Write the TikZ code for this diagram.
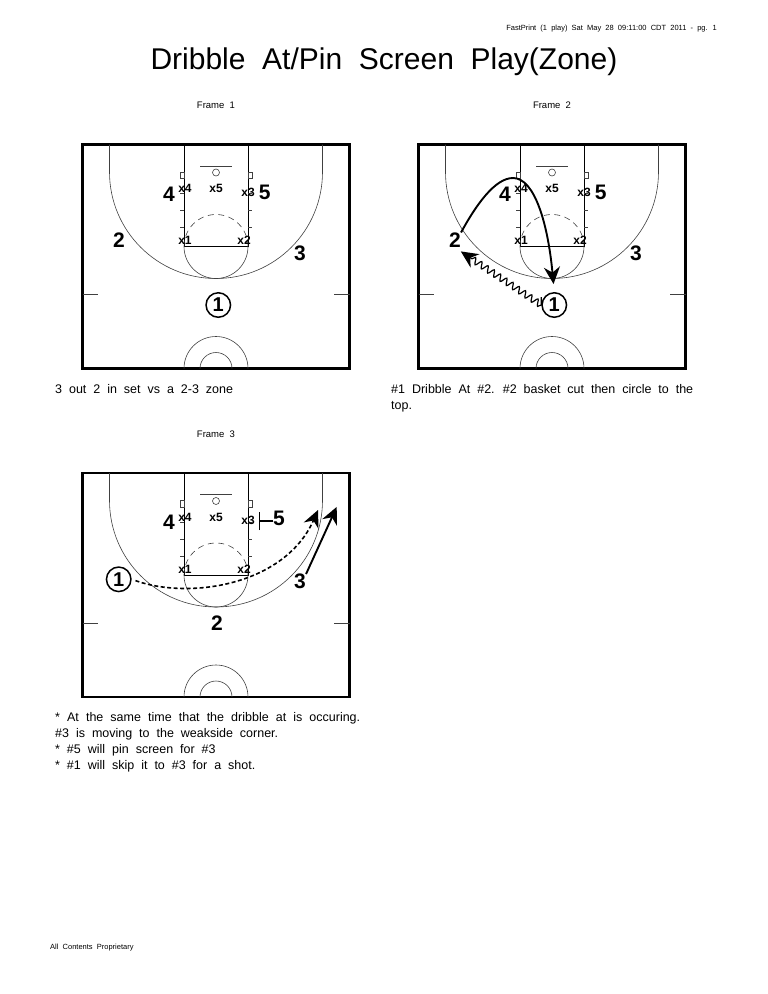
\documentclass[tikz,border=0pt]{standalone}
\usepackage{fontspec}
\setmainfont[WordSpace=2]{Liberation Sans}
\usetikzlibrary{arrows.meta, positioning, decorations.pathmorphing}
\tikzset{
    court/.pic = {
        % outer frame
        \draw [line width=2.6pt] (-133.5,0) rectangle (133.5,-224);
        % three point line
        \draw [thinline] (-106.5,0) -- (-106.5,-27.5) arc [start angle=180, end angle=360, radius=106.5] -- (106.5,0);
        % lane and free throw circle
        \draw [laneline] (-32,0) -- (-32,-102) -- (32,-102) -- (32,0);
        \draw [thinline] (-32,-102) arc [start angle=180, end angle=360, radius=32];
        \draw [thinline, dash pattern=on 6pt off 4.5pt] (32,-102) arc [start angle=0, end angle=180, radius=32];
        % rim and blocks
        \draw [thinline] (-16,-21.5) -- (16,-21.5);
        \draw [thinline] (0,-28) circle (3.5);
        \draw [thinline] (-36,-27.5) rectangle (-32,-34);
        \draw [thinline] (32,-27.5) rectangle (36,-34);
        % lane ticks
        \foreach \ypos in {-49,-66,-83} {
            \draw [thinline] (-36,\ypos) -- (-32,\ypos);
            \draw [thinline] (32,\ypos) -- (36,\ypos);
        }
        % half court ticks and centre circles
        \draw [thinline] (-133.5,-150) -- (-118,-150);
        \draw [thinline] (118,-150) -- (133.5,-150);
        \draw [thinline] (-32,-224) arc [start angle=180, end angle=0, radius=32];
        \draw [thinline] (-16,-224) arc [start angle=180, end angle=0, radius=16];
    }
}

\begin{document}
\begin{tikzpicture}[
    x=1pt, y=1pt,
    thinline/.style={line width=0.6pt, black!75},
    laneline/.style={line width=0.9pt, black},
    player/.style={inner sep=0pt, font=\fontsize{21}{21}\selectfont\bfseries},
    ball/.style={circle, draw, line width=1.5pt, minimum size=24.5pt, inner sep=0pt, font=\fontsize{20}{20}\selectfont\bfseries},
    defender/.style={inner sep=0pt, font=\fontsize{12}{12}\selectfont\bfseries},
    framelabel/.style={inner sep=0pt, font=\fontsize{9.5}{12}\selectfont},
    caption/.style={inner sep=0pt, anchor=north west, text width=304pt, align=justify, font=\fontsize{12.5}{16}\selectfont},
    move/.style={line width=1.9pt, -{Stealth[length=17pt, width=16pt]}},
    pass/.style={line width=1.6pt, dash pattern=on 4pt off 2.5pt, -{Stealth[length=17pt, width=16pt]}},
    dribble/.style={line width=1.2pt, -{Stealth[length=17pt, width=16pt]}, decorate, decoration={snake, segment length=7.5pt, amplitude=3.2pt, post length=17pt}},
    screen/.style={line width=1.2pt, -{Bar[width=18pt, line width=1.2pt]}}
]
\useasboundingbox (0,0) rectangle (768,-994);

% Page header
\node [inner sep=0pt, anchor=east, font=\fontsize{7.5}{9}\selectfont] (header) at (717,-29) {FastPrint (1 play) Sat May 28 09:11:00 CDT 2011 - pg. 1};
\node [inner sep=0pt, font=\fontsize{30}{32}\selectfont] (title) at (384,-62) {Dribble At/Pin Screen Play(Zone)};
\node [inner sep=0pt, anchor=west, font=\fontsize{7.5}{9}\selectfont] (footer) at (50,-948) {All Contents Proprietary};

% Courts
\coordinate (topA) at (216,-144.5);
\coordinate (topB) at (552,-144.5);
\coordinate (topC) at (216,-473);
\pic at (topA) {court};
\pic at (topB) {court};
\pic at (topC) {court};

\node [framelabel, above=39pt of topA, anchor=center] (labelA) {Frame 1};
\node [framelabel, above=39pt of topB, anchor=center] (labelB) {Frame 2};
\node [framelabel, above=39pt of topC, anchor=center] (labelC) {Frame 3};

% Frame 1
\node [player, below left=49.5pt and 47pt of topA, anchor=center] (fourA) {4};
\node [player, below right=47.5pt and 48.7pt of topA, anchor=center] (fiveA) {5};
\node [player, below left=95.5pt and 97pt of topA, anchor=center] (twoA) {2};
\node [player, below right=108.5pt and 84pt of topA, anchor=center] (threeA) {3};
\node [ball, below right=160.5pt and 2.3pt of topA, anchor=center] (oneA) {1};
\node [defender, below left=44pt and 31pt of topA, anchor=center] (xfourA) {x4};
\node [defender, below=44pt of topA, anchor=center] (xfiveA) {x5};
\node [defender, below right=48pt and 32pt of topA, anchor=center] (xthreeA) {x3};
\node [defender, below left=96pt and 31pt of topA, anchor=center] (xoneA) {x1};
\node [defender, below right=96pt and 28pt of topA, anchor=center] (xtwoA) {x2};
\node [caption] (captionA) at (55,-384) {3 out 2 in set vs a 2-3 zone};

% Frame 2
\node [player, below left=49.5pt and 47pt of topB, anchor=center] (fourB) {4};
\node [player, below right=47.5pt and 48.7pt of topB, anchor=center] (fiveB) {5};
\node [player, below left=95.5pt and 97pt of topB, anchor=center] (twoB) {2};
\node [player, below right=108.5pt and 84pt of topB, anchor=center] (threeB) {3};
\node [ball, below right=160.5pt and 2.3pt of topB, anchor=center] (oneB) {1};
\node [defender, below left=44pt and 31pt of topB, anchor=center] (xfourB) {x4};
\node [defender, below=44pt of topB, anchor=center] (xfiveB) {x5};
\node [defender, below right=48pt and 32pt of topB, anchor=center] (xthreeB) {x3};
\node [defender, below left=96pt and 31pt of topB, anchor=center] (xoneB) {x1};
\node [defender, below right=96pt and 28pt of topB, anchor=center] (xtwoB) {x2};
\draw [move, shorten >=8pt] (twoB.north east) .. controls (476,-205) and (495,-178) .. (513,-178) .. controls (535,-178) and (548,-225) .. (oneB.north);
\draw [dribble, shorten <=8pt, shorten >=7pt] (oneB.west) -- (twoB.south);
\node [caption, text width=302pt] (captionB) at (391,-384) {\#1 Dribble At \#2. \#2 basket cut then circle to the top.};

% Frame 3
\node [player, below left=49.5pt and 47pt of topC, anchor=center] (fourC) {4};
\node [player, below right=45pt and 63pt of topC, anchor=center] (fiveC) {5};
\node [player, below right=150pt and 1pt of topC, anchor=center] (twoC) {2};
\node [player, below right=108.7pt and 84pt of topC, anchor=center] (threeC) {3};
\node [ball, below left=106.3pt and 97.3pt of topC, anchor=center] (oneC) {1};
\node [defender, below left=44pt and 31pt of topC, anchor=center] (xfourC) {x4};
\node [defender, below=44pt of topC, anchor=center] (xfiveC) {x5};
\node [defender, below right=47pt and 32pt of topC, anchor=center] (xthreeC) {x3};
\node [defender, below left=96pt and 31pt of topC, anchor=center] (xoneC) {x1};
\node [defender, below right=96pt and 28pt of topC, anchor=center] (xtwoC) {x2};
\coordinate [below right=48pt and 42.7pt of topC] (pinC);
\coordinate [below right=33.9pt and 120.7pt of topC] (cornerC);
\coordinate [below right=37pt and 102pt of topC] (skipC);
\draw [screen] (fiveC.west |- pinC) -- (pinC);
\draw [move] (threeC.north east) -- (cornerC);
\draw [pass, shorten <=4pt] (oneC.east) .. controls (190,-600) and (285,-585) .. (skipC);
\node [caption, text width=305pt] (captionC) at (55,-712) {* At the same time that the dribble at is occuring. \#3 is moving to the weakside corner.\\{}* \#5 will pin screen for \#3\\{}* \#1 will skip it to \#3 for a shot.};

\end{tikzpicture}
\end{document}
